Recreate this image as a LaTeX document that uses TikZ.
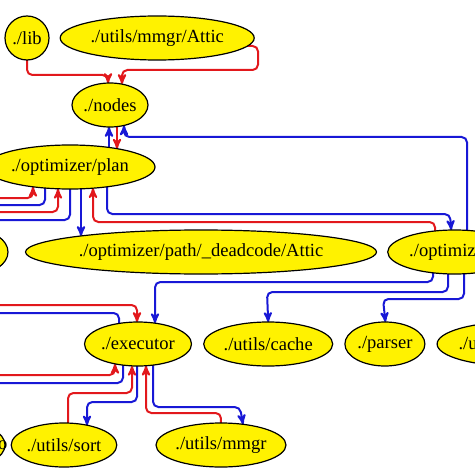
\documentclass[tikz,border=0pt]{standalone}
\usepackage{fontspec}
\setmainfont{Liberation Serif}
\usetikzlibrary{arrows,shapes.geometric,positioning,calc,backgrounds}
\definecolor{depred}{RGB}{226,24,28}
\definecolor{depblue}{RGB}{24,24,214}

\begin{document}
\begin{tikzpicture}[x=0.75pt,y=-0.75pt,>=stealth',
    dir node/.style={ellipse,draw,line width=0.9pt,fill=yellow,inner sep=0pt,minimum height=33pt,font=\fontsize{13.9}{16}\selectfont},
    red dep/.style={->,draw=depred,line width=1.5pt,rounded corners=4pt},
    blue dep/.style={->,draw=depblue,line width=1.5pt,rounded corners=4pt}]
  \useasboundingbox (0,0) rectangle (474,474);

  \node[dir node,minimum width=33pt] (lib) at (27,38) {./lib};
  \node[dir node,minimum width=145.5pt] (attic) [right=7.5pt of lib] {./utils/mmgr/Attic};
  \node[dir node,minimum width=57pt] (nodes) at (110,105) {./nodes};
  \node[dir node,minimum width=127.5pt] (plan) at (70,167) {./optimizer/plan};
  \node[dir node,minimum width=49.5pt] (leftmid) at (-25,252) {};
  \node[dir node,minimum width=263.25pt] (dead) at (201,252) {./optimizer/path/\_deadcode/Attic};
  \node[dir node,minimum width=100.5pt] (optim) [right=7.5pt of dead] {\makebox[0pt][l]{\hspace*{-34.1pt}./optimiz}};
  \node[dir node,minimum width=80.25pt] (exec) at (138,344) {./executor};
  \node[dir node,minimum width=96.75pt] (cache) [right=8.25pt of exec] {./utils/cache};
  \node[dir node,minimum width=60pt] (parser) [right=8.25pt of cache] {./parser};
  \node[dir node,minimum width=116.25pt] (ustub) [right=8.25pt of parser] {\makebox[0pt][l]{\hspace*{-42pt}./u}};
  \node[dir node,minimum width=76.5pt] (sort) at (64,445) {./utils/sort};
  \node[dir node,minimum width=97.5pt] (mmgr) [right=28.5pt of sort] {./utils/mmgr};
  \node[dir node,minimum width=60pt] (ostub) [left=3.75pt of sort] {\makebox[0pt][l]{\hspace*{24.75pt}o}};

  \coordinate (lft1) at (-30,198);
  \coordinate (lft2) at (-30,205);
  \coordinate (lft3) at (-30,212);
  \coordinate (lft4) at (-30,220);
  \coordinate (lft5) at (-30,305);
  \coordinate (lft6) at (-30,313);
  \coordinate (lft7) at (-30,375);
  \coordinate (lft8) at (-30,383);

  \begin{pgfonlayer}{background}
    \draw[red dep] (lib.center) |- (108,75) -- ($(nodes.center)+(-2,-22)$);
    \draw[red dep] ($(attic.center)+(0,8)$) -| (258,70) -| ($(nodes.center)+(12,-21)$);
    \draw[blue dep] (plan.center -| 109,0) -- ($(nodes.center)+(-1,22)$);
    \draw[red dep] (nodes.center -| 117,0) -- ($(plan.center)+(47,-18.3)$);
    \draw[blue dep] (optim.center -| 467,0) |- (124,137) -- ($(nodes.center)+(14,20.5)$);

    \draw[red dep] (lft1) -| ($(plan.center)+(-37,19.8)$);
    \draw[blue dep] (plan.center -| 45,0) |- (lft2);
    \draw[red dep] (lft3) -| ($(plan.center)+(-12,21.8)$);
    \draw[blue dep] (plan.center) |- (lft4);
    \draw[blue dep] (plan.center -| 81,0) -- ($(dead.center)+(-120,-16)$);
    \draw[red dep] (optim.center -| 435,0) |- (93,222) -- ($(plan.center)+(23,21.2)$);
    \draw[blue dep] (plan.center -| 107,0) |- (450,214) -- ($(optim.center)+(-3.5,-22)$);

    \draw[blue dep] (optim.center -| 433,0) |- (155,282) -- ($(exec.center)+(17,-20.9)$);
    \draw[blue dep] (optim.center -| 448,0) |- (267,292) -- ($(cache.center)+(0,-22)$);
    \draw[blue dep] (optim.center -| 464,0) |- (383,299) -- ($(parser.center)+(0.5,-22)$);

    \draw[red dep] (lft5) -| ($(exec.center)+(-1,-22)$);
    \draw[blue dep] (exec.center -| 119,0) |- (lft6);
    \draw[red dep] (lft7) -| ($(exec.center)+(-23,19.9)$);
    \draw[blue dep] (exec.center -| 123,0) |- (lft8);
    \draw[red dep] (sort.center -| 68,0) |- (132,393) -- ($(exec.center)+(-6,21.9)$);
    \draw[blue dep] (exec.center -| 137,0) |- (87,402) -- ($(sort.center)+(23,-19.6)$);
    \draw[red dep] (mmgr.center) |- (146,413) -- ($(exec.center)+(8,21.75)$);
    \draw[blue dep] (exec.center -| 153,0) |- (240,407) -- ($(mmgr.center)+(22,-20.7)$);
  \end{pgfonlayer}
\end{tikzpicture}
\end{document}
